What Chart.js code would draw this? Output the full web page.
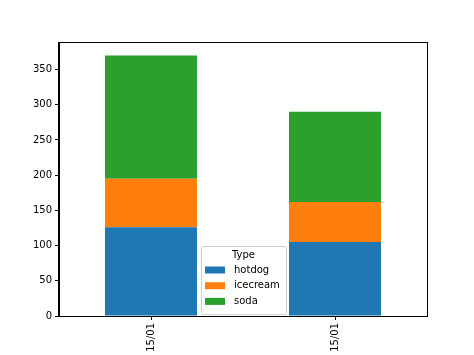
<!DOCTYPE html>
<html>
<head>
<meta charset="utf-8">
<script src="https://cdn.jsdelivr.net/npm/chart.js@4/dist/chart.umd.min.js"></script>
<style>
html,body{margin:0;padding:0;background:#fff;}
#wrap{width:474px;height:355px;}
</style>
</head>
<body>
<div id="wrap"><canvas id="c" width="474" height="355"></canvas></div>
<script>
const categories = ['15/01', '15/01'];
const hotdog = [126, 105];
const icecream = [69, 57];
const soda = [175, 128];
const yTicks = [0, 50, 100, 150, 200, 250, 300, 350];
const legendTitle = 'Type';

const FONT = 'DejaVu Sans';

const framePlugin = {
  id: 'frame',
  afterDatasetsDraw(chart) {
    const {ctx, chartArea: a} = chart;
    ctx.save();
    ctx.strokeStyle = '#000';
    ctx.lineWidth = 1;
    ctx.strokeRect(Math.round(a.left) - 0.5, Math.round(a.top) - 0.5, Math.round(a.right - a.left) + 1, Math.round(a.bottom - a.top) + 1);
    ctx.restore();
  }
};

const legendPlugin = {
  id: 'mplLegend',
  afterDraw(chart) {
    const {ctx} = chart;
    const x0 = 201, y0 = 246, w = 85, h = 68;
    ctx.save();
    ctx.fillStyle = 'rgba(255,255,255,0.8)';
    ctx.strokeStyle = '#d0d0d0';
    ctx.lineWidth = 1;
    ctx.beginPath();
    ctx.roundRect(x0 + 0.5, y0 + 0.5, w, h, 2);
    ctx.fill();
    ctx.stroke();
    ctx.fillStyle = '#000';
    ctx.font = '10px "' + FONT + '"';
    ctx.textBaseline = 'middle';
    ctx.textAlign = 'center';
    ctx.fillText(legendTitle, x0 + w / 2, y0 + 9);
    ctx.textAlign = 'left';
    chart.data.datasets.forEach((ds, i) => {
      const cy = y0 + 24 + i * 15.7;
      ctx.fillStyle = ds.backgroundColor;
      ctx.fillRect(x0 + 4, cy - 3.5, 20, 7);
      ctx.fillStyle = '#000';
      ctx.fillText(ds.label, x0 + 33, cy);
    });
    ctx.restore();
  }
};

new Chart(document.getElementById('c'), {
  type: 'bar',
  data: {
    labels: categories,
    datasets: [
      {label: 'hotdog', data: hotdog, backgroundColor: '#1f77b4'},
      {label: 'icecream', data: icecream, backgroundColor: '#ff7f0e'},
      {label: 'soda', data: soda, backgroundColor: '#2ca02c'}
    ]
  },
  options: {
    responsive: false,
    animation: false,
    devicePixelRatio: 1,
    layout: {padding: {left: 0, top: 43, right: 47, bottom: 0}},
    plugins: {legend: {display: false}, tooltip: {enabled: false}},
    datasets: {bar: {barPercentage: 0.5, categoryPercentage: 1.0, borderWidth: 0}},
    scales: {
      x: {
        stacked: true,
        afterFit(s) { s.height = 39; },
        grid: {display: true, drawOnChartArea: false, drawTicks: true, tickLength: 4, color: '#000', offset: false},
        border: {display: true, color: '#000'},
        ticks: {maxRotation: 90, minRotation: 90, padding: 3, color: '#000', font: {family: FONT, size: 10}}
      },
      y: {
        stacked: true,
        min: 0,
        max: 387.6,
        afterFit(s) { s.width = 59; },
        afterBuildTicks(s) { s.ticks = yTicks.map(v => ({value: v})); },
        grid: {display: true, drawOnChartArea: false, drawTicks: true, tickLength: 4, color: '#000'},
        border: {display: true, color: '#000'},
        ticks: {padding: 3, color: '#000', font: {family: FONT, size: 10}}
      }
    }
  },
  plugins: [framePlugin, legendPlugin]
});
</script>
</body>
</html>
